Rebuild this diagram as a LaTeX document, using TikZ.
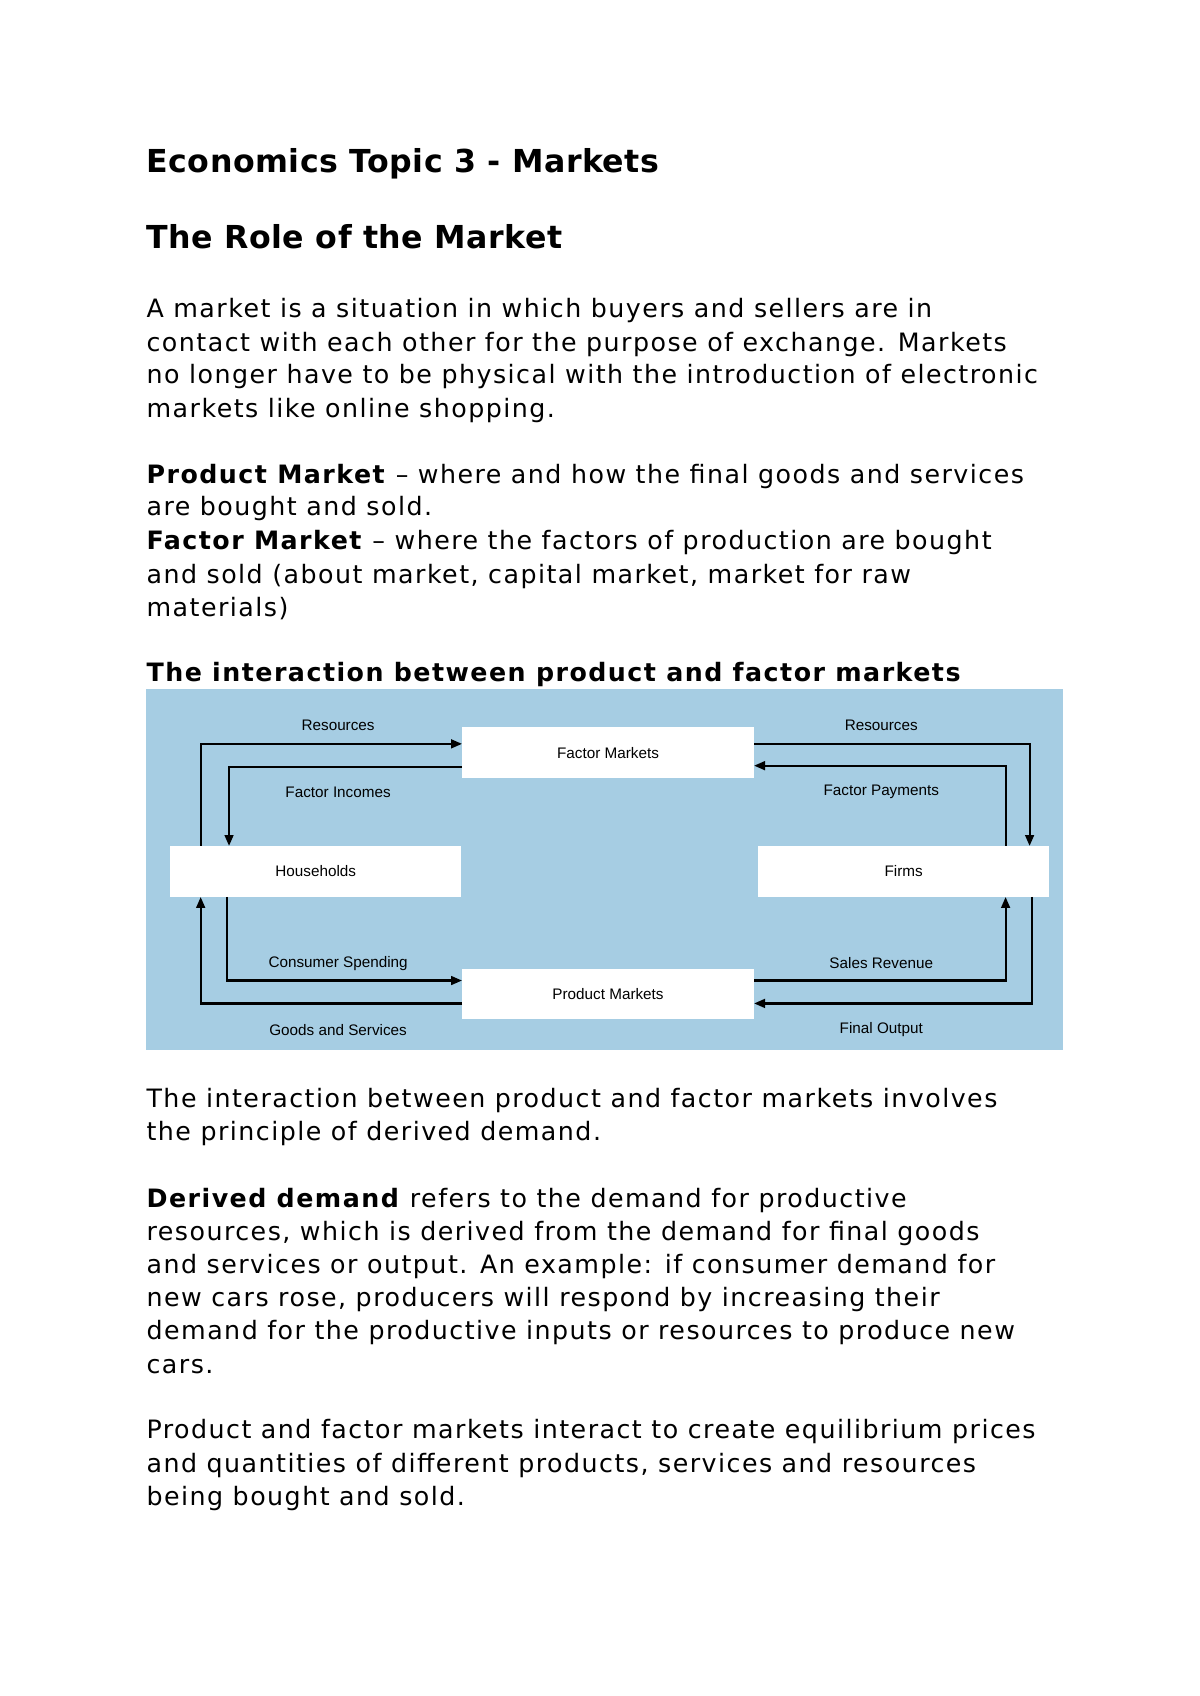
\documentclass[tikz,border=0pt]{standalone}
\usepackage{fontspec}
\setmainfont{DejaVu Sans}
\newfontfamily\spaced[LetterSpace=5.8]{DejaVu Sans}
\newfontfamily\hspaced[LetterSpace=1.5]{DejaVu Sans}
\newfontfamily\diafont{Liberation Sans}
\usetikzlibrary{arrows.meta}
\definecolor{bluebg}{RGB}{166,205,227}
\begin{document}
\begin{tikzpicture}[x=0.5pt,y=-0.5pt,
  ln/.style={anchor=base west,inner sep=0,font=\spaced\fontsize{11.6}{13}\selectfont},
  hd/.style={anchor=base west,inner sep=0,font=\hspaced\fontsize{14.5}{16}\selectfont\bfseries},
  box/.style={draw=none,fill=white,minimum width=133.5pt,minimum height=23pt,inner sep=0,font=\diafont\fontsize{7}{8}\selectfont},
  lab/.style={inner sep=0,font=\diafont\fontsize{7}{8}\selectfont},
  arr/.style={line width=1pt,-{Triangle[length=5pt,width=4pt]}}]
\useasboundingbox (0,0) rectangle (1100,1555);
\fill[white] (0,0) rectangle (1100,1555);
\node[hd] (h1) at (134,158) {Economics Topic 3 - Markets};
\node[hd] (h2) at (134,228) {The Role of the Market};
\node[ln] (p1) at (134,291) {A market is a situation in which buyers and sellers are in};
\node[ln] (p2) at (134,322) {contact with each other for the purpose of exchange. Markets};
\node[ln] (p3) at (134,352) {no longer have to be physical with the introduction of electronic};
\node[ln] (p4) at (134,383) {markets like online shopping.};
\node[ln] (p5) at (134,443) {\textbf{Product Market} – where and how the final goods and services};
\node[ln] (p6) at (134,473) {are bought and sold.};
\node[ln] (p7) at (134,504) {\textbf{Factor Market} – where the factors of production are bought};
\node[ln] (p8) at (134,535) {and sold (about market, capital market, market for raw};
\node[ln] (p9) at (134,565) {materials)};
\node[ln,font=\spaced\fontsize{11.6}{13}\selectfont\bfseries] (h3) at (134,625) {The interaction between product and factor markets};
% diagram
\fill[bluebg] (134,632) rectangle (975,963);
\node[box] (fm) at (557.5,690) {Factor Markets};
\node[box] (hh) at (289.5,799) {Households};
\node[box] (fi) at (828.5,799) {Firms};
\node[box] (pm) at (557.5,911) {Product Markets};
\draw[arr] (hh.north -| 184,0) |- (fm.west |- 0,682);
\draw[arr] (fm.west |- 0,703) -| (hh.north -| 210,0);
\draw[arr] (fm.east |- 0,682) -| (fi.north -| 944,0);
\draw[arr] (fi.north -| 922,0) |- (fm.east |- 0,702);
\draw[arr] (hh.south -| 208,0) |- (pm.west |- 0,899);
\draw[arr] (pm.west |- 0,920) -| (hh.south -| 184,0);
\draw[arr] (pm.east |- 0,899) -| (fi.south -| 922,0);
\draw[arr] (fi.south -| 946,0) |- (pm.east |- 0,920);
\node[lab] (l1) at (310,665) {Resources};
\node[lab] (l2) at (310,726) {Factor Incomes};
\node[lab] (l3) at (808,665) {Resources};
\node[lab] (l4) at (808,726) {Factor Payments};
\node[lab] (l5) at (310,883) {Consumer Spending};
\node[lab] (l6) at (808,883) {Sales Revenue};
\node[lab] (l7) at (310,944) {Goods and Services};
\node[lab] (l8) at (808,944) {Final Output};
% text below
\node[ln] (q1) at (134,1015) {The interaction between product and factor markets involves};
\node[ln] (q2) at (134,1046) {the principle of derived demand.};
\node[ln] (q3) at (134,1107) {\textbf{Derived demand} refers to the demand for productive};
\node[ln] (q4) at (134,1137) {resources, which is derived from the demand for final goods};
\node[ln] (q5) at (134,1168) {and services or output. An example: if consumer demand for};
\node[ln] (q6) at (134,1198) {new cars rose, producers will respond by increasing their};
\node[ln] (q7) at (134,1228) {demand for the productive inputs or resources to produce new};
\node[ln] (q8) at (134,1259) {cars.};
\node[ln] (q9) at (134,1319) {Product and factor markets interact to create equilibrium prices};
\node[ln] (q10) at (134,1350) {and quantities of different products, services and resources};
\node[ln] (q11) at (134,1380) {being bought and sold.};
\end{tikzpicture}
\end{document}
